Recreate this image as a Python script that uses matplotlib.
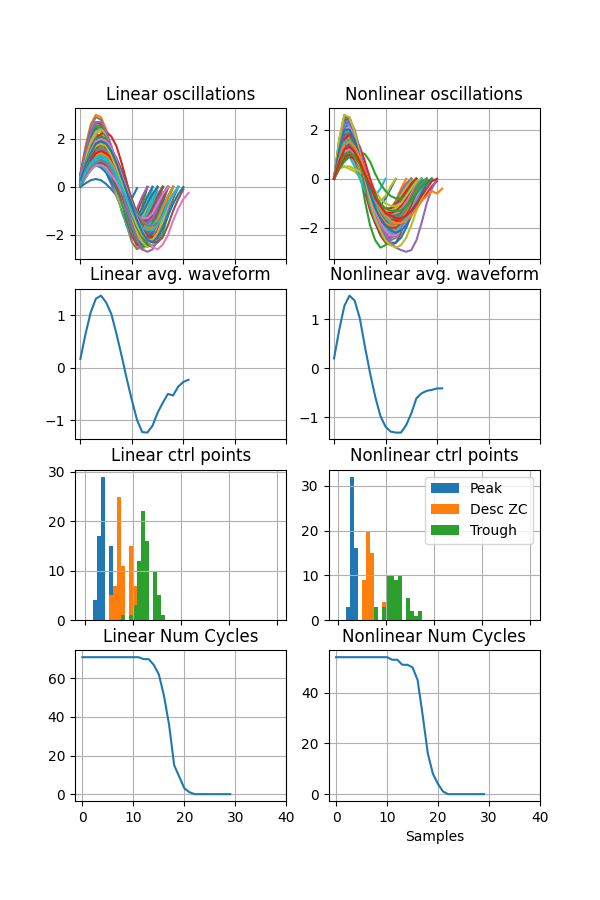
import numpy as np
import matplotlib
matplotlib.use("Agg")
import matplotlib.pyplot as plt

# ---------------- data ----------------
linear_cycles = [
    [0.0, 0.15, 0.28, 0.33, 0.28, 0.12, -0.1, -0.35, -0.58, -0.7, -0.48, -0.05],
    [0.6, 1.7, 2.6, 3.0, 2.9, 2.4, 1.6, 0.6, -0.4, -1.3, -2.0, -2.5, -2.6, -2.4, -1.9, -1.2, -0.5, 0.0],
    [0.3, 1.0, 1.6, 1.9, 1.8, 1.3, 0.6, -0.2, -1.0, -1.6, -1.9, -1.6, -0.8, 0.0],
    [0.2, 0.7, 1.1, 1.3, 1.2, 0.8, 0.3, -0.3, -0.9, -1.3, -1.4, -1.1, -0.5, 0.0],
    [0.1, 0.5, 0.9, 1.0, 0.9, 0.6, 0.1, -0.4, -0.9, -1.2, -1.2, -0.9, -0.4, 0.0],
    [0.4, 1.3, 2.0, 2.4, 2.3, 1.8, 1.0, 0.1, -0.8, -1.6, -2.1, -2.2, -1.8, -0.9, 0.0],
    [0.2, 0.8, 1.3, 1.6, 1.5, 1.1, 0.5, -0.2, -0.9, -1.5, -1.8, -1.7, -1.2, -0.5, 0.0],
    [0.5, 1.6, 2.5, 2.9, 2.8, 2.2, 1.3, 0.3, -0.7, -1.6, -2.3, -2.6, -2.4, -1.7, -0.8, 0.0],
    [0.1, 0.6, 1.0, 1.2, 1.1, 0.8, 0.3, -0.3, -0.9, -1.4, -1.6, -1.5, -1.0, -0.4, 0.0],
    [0.3, 1.1, 1.7, 2.0, 1.9, 1.4, 0.7, -0.1, -0.9, -1.6, -2.0, -2.0, -1.5, -0.7, 0.0],
    [0.0, 0.4, 0.7, 0.9, 0.8, 0.6, 0.2, -0.2, -0.7, -1.1, -1.3, -1.2, -0.9, -0.4, 0.0],
    [0.3, 1.0, 1.6, 1.9, 1.9, 1.5, 0.9, 0.2, -0.6, -1.3, -1.8, -2.0, -1.8, -1.2, -0.5, 0.0],
    [0.2, 0.7, 1.2, 1.4, 1.4, 1.1, 0.6, 0.0, -0.6, -1.1, -1.5, -1.6, -1.4, -1.0, -0.4, 0.0],
    [0.4, 1.2, 1.9, 2.2, 2.1, 1.6, 0.9, 0.1, -0.7, -1.4, -1.9, -2.1, -1.9, -1.3, -0.6, 0.0],
    [0.1, 0.5, 0.9, 1.1, 1.1, 0.9, 0.5, 0.0, -0.5, -1.0, -1.3, -1.4, -1.2, -0.8, -0.3, 0.0],
    [0.3, 0.9, 1.4, 1.7, 1.6, 1.2, 0.6, -0.1, -0.8, -1.4, -1.8, -1.9, -1.6, -1.0, -0.4, 0.0],
    [0.2, 0.8, 1.3, 1.5, 1.5, 1.2, 0.7, 0.1, -0.5, -1.1, -1.6, -1.8, -1.6, -1.1, -0.5, 0.0],
    [0.4, 1.4, 2.2, 2.6, 2.5, 2.0, 1.2, 0.3, -0.6, -1.4, -2.0, -2.3, -2.1, -1.5, -0.7, 0.0],
    [0.1, 0.6, 1.0, 1.3, 1.2, 0.9, 0.4, -0.2, -0.8, -1.3, -1.6, -1.6, -1.3, -0.8, -0.3, 0.0],
    [0.3, 1.0, 1.5, 1.8, 1.7, 1.3, 0.7, 0.0, -0.7, -1.3, -1.7, -1.8, -1.6, -1.1, -0.5, 0.0],
    [0.2, 0.6, 0.9, 1.0, 0.9, 0.7, 0.3, -0.1, -0.6, -1.0, -1.3, -1.3, -1.1, -0.7, -0.3, 0.0],
    [0.3, 1.1, 1.8, 2.3, 2.4, 2.1, 1.5, 0.7, -0.2, -1.0, -1.7, -2.2, -2.4, -2.1, -1.4, -0.6, 0.0],
    [0.2, 0.8, 1.3, 1.6, 1.6, 1.3, 0.8, 0.2, -0.5, -1.1, -1.6, -1.9, -1.9, -1.6, -1.0, -0.4, 0.0],
    [0.5, 1.5, 2.3, 2.7, 2.6, 2.1, 1.3, 0.4, -0.5, -1.4, -2.0, -2.4, -2.5, -2.1, -1.4, -0.6, 0.0],
    [0.1, 0.5, 0.9, 1.2, 1.2, 1.0, 0.6, 0.1, -0.4, -0.9, -1.3, -1.5, -1.5, -1.2, -0.8, -0.3, 0.0],
    [0.3, 0.9, 1.4, 1.7, 1.7, 1.4, 0.9, 0.2, -0.5, -1.2, -1.7, -2.0, -2.0, -1.7, -1.1, -0.5, 0.0],
    [0.2, 0.7, 1.1, 1.3, 1.3, 1.0, 0.6, 0.1, -0.5, -1.0, -1.4, -1.7, -1.7, -1.4, -0.9, -0.4, 0.0],
    [0.4, 1.3, 2.0, 2.4, 2.3, 1.9, 1.2, 0.4, -0.5, -1.3, -1.9, -2.3, -2.3, -1.9, -1.3, -0.5, 0.0],
    [0.2, 0.7, 1.2, 1.5, 1.5, 1.2, 0.8, 0.2, -0.4, -1.0, -1.5, -1.8, -1.8, -1.5, -1.0, -0.4, 0.0],
    [0.1, 0.4, 0.7, 0.9, 0.9, 0.7, 0.4, 0.0, -0.4, -0.8, -1.1, -1.3, -1.3, -1.1, -0.7, -0.3, 0.0],
    [0.3, 1.0, 1.6, 2.0, 2.0, 1.7, 1.1, 0.3, -0.5, -1.2, -1.8, -2.1, -2.1, -1.8, -1.2, -0.5, 0.0],
    [0.2, 0.9, 1.4, 1.7, 1.6, 1.3, 0.7, 0.1, -0.6, -1.2, -1.6, -1.9, -1.9, -1.6, -1.1, -0.5, 0.0],
    [0.4, 1.2, 1.8, 2.1, 2.0, 1.6, 1.0, 0.2, -0.6, -1.3, -1.8, -2.1, -2.2, -1.9, -1.3, -0.6, 0.0],
    [0.1, 0.6, 1.0, 1.3, 1.3, 1.1, 0.7, 0.2, -0.3, -0.8, -1.2, -1.5, -1.6, -1.4, -0.9, -0.4, 0.0],
    [0.3, 0.8, 1.2, 1.4, 1.4, 1.1, 0.7, 0.1, -0.5, -1.1, -1.5, -1.8, -1.8, -1.5, -1.0, -0.5, 0.0],
    [0.2, 0.6, 1.0, 1.1, 1.1, 0.9, 0.5, 0.0, -0.5, -0.9, -1.3, -1.5, -1.5, -1.3, -0.9, -0.4, 0.0],
    [0.3, 1.0, 1.7, 2.2, 2.4, 2.2, 1.7, 1.0, 0.2, -0.6, -1.4, -2.0, -2.4, -2.5, -2.2, -1.5, -0.7, 0.0],
    [0.2, 0.8, 1.3, 1.7, 1.8, 1.6, 1.2, 0.6, -0.1, -0.8, -1.4, -1.8, -2.0, -2.0, -1.6, -1.0, -0.4, 0.0],
    [0.4, 1.2, 1.9, 2.3, 2.3, 2.0, 1.4, 0.6, -0.3, -1.1, -1.8, -2.2, -2.4, -2.3, -1.9, -1.2, -0.5, 0.0],
    [0.1, 0.5, 0.9, 1.2, 1.3, 1.2, 0.9, 0.4, -0.1, -0.6, -1.1, -1.5, -1.7, -1.7, -1.4, -0.9, -0.4, 0.0],
    [0.3, 0.9, 1.5, 1.8, 1.9, 1.7, 1.2, 0.6, -0.1, -0.8, -1.4, -1.9, -2.1, -2.1, -1.8, -1.2, -0.5, 0.0],
    [0.2, 0.7, 1.1, 1.4, 1.5, 1.3, 1.0, 0.5, -0.1, -0.7, -1.2, -1.6, -1.8, -1.8, -1.5, -1.0, -0.4, 0.0],
    [0.5, 1.4, 2.1, 2.5, 2.5, 2.1, 1.5, 0.7, -0.2, -1.1, -1.8, -2.3, -2.5, -2.4, -2.0, -1.3, -0.6, 0.0],
    [0.2, 0.6, 1.0, 1.2, 1.2, 1.0, 0.7, 0.3, -0.2, -0.7, -1.1, -1.4, -1.5, -1.5, -1.2, -0.8, -0.3, 0.0],
    [0.3, 1.1, 1.7, 2.0, 2.0, 1.7, 1.2, 0.5, -0.3, -1.0, -1.6, -2.0, -2.2, -2.1, -1.7, -1.1, -0.5, 0.0],
    [0.1, 0.4, 0.8, 1.0, 1.0, 0.9, 0.6, 0.2, -0.2, -0.6, -1.0, -1.3, -1.4, -1.4, -1.1, -0.7, -0.3, 0.0],
    [0.4, 1.1, 1.6, 1.9, 1.9, 1.6, 1.1, 0.4, -0.3, -1.0, -1.6, -1.9, -2.1, -2.0, -1.6, -1.0, -0.4, 0.0],
    [0.2, 0.9, 1.4, 1.7, 1.7, 1.5, 1.0, 0.4, -0.3, -0.9, -1.5, -1.9, -2.0, -1.9, -1.5, -1.0, -0.4, 0.0],
    [0.3, 0.8, 1.3, 1.6, 1.6, 1.4, 1.0, 0.4, -0.2, -0.8, -1.3, -1.7, -1.9, -1.8, -1.5, -1.0, -0.4, 0.0],
    [0.1, 0.6, 1.0, 1.3, 1.4, 1.3, 1.0, 0.5, 0.0, -0.6, -1.1, -1.5, -1.7, -1.7, -1.4, -0.9, -0.4, 0.0],
    [0.4, 1.3, 2.0, 2.4, 2.4, 2.1, 1.5, 0.7, -0.2, -1.0, -1.7, -2.2, -2.4, -2.3, -1.9, -1.3, -0.6, 0.0],
    [0.2, 0.7, 1.2, 1.5, 1.6, 1.4, 1.0, 0.4, -0.2, -0.8, -1.3, -1.7, -1.9, -1.9, -1.6, -1.0, -0.4, 0.0],
    [0.3, 0.9, 1.4, 1.6, 1.6, 1.3, 0.9, 0.3, -0.3, -0.9, -1.4, -1.8, -2.0, -1.9, -1.5, -0.9, -0.4, 0.0],
    [0.3, 1.0, 1.6, 2.0, 2.2, 2.3, 2.1, 1.7, 1.0, 0.2, -0.6, -1.3, -1.9, -2.2, -2.2, -1.8, -1.2, -0.5, 0.0],
    [0.2, 0.5, 0.9, 1.1, 1.1, 1.0, 0.7, 0.3, -0.2, -0.6, -1.0, -1.3, -1.5, -1.5, -1.3, -0.9, -0.4, 0.0],
    [0.3, 1.0, 1.6, 1.9, 1.9, 1.6, 1.1, 0.5, -0.2, -0.9, -1.5, -1.9, -2.1, -2.0, -1.6, -1.1, -0.5, 0.0],
    [0.1, 0.4, 0.7, 0.9, 0.9, 0.8, 0.5, 0.2, -0.2, -0.6, -0.9, -1.2, -1.3, -1.3, -1.1, -0.7, -0.3, 0.0],
    [0.2, 0.7, 1.2, 1.5, 1.6, 1.5, 1.2, 0.7, 0.1, -0.5, -1.1, -1.6, -1.9, -2.0, -1.9, -1.5, -1.0, -0.4, 0.0],
    [0.4, 1.2, 1.9, 2.3, 2.4, 2.2, 1.7, 1.0, 0.2, -0.6, -1.3, -1.9, -2.3, -2.5, -2.4, -2.0, -1.3, -0.6, 0.0],
    [0.1, 0.5, 0.9, 1.1, 1.2, 1.1, 0.8, 0.4, -0.1, -0.6, -1.0, -1.4, -1.6, -1.7, -1.6, -1.3, -0.8, -0.4, 0.0],
    [0.3, 0.9, 1.4, 1.8, 1.9, 1.8, 1.4, 0.8, 0.1, -0.6, -1.2, -1.7, -2.0, -2.1, -1.9, -1.5, -1.0, -0.4, 0.0],
    [0.2, 0.6, 1.0, 1.3, 1.4, 1.3, 1.0, 0.6, 0.1, -0.4, -0.9, -1.3, -1.6, -1.8, -1.7, -1.4, -0.9, -0.4, 0.0],
    [0.3, 1.0, 1.6, 2.0, 2.1, 2.0, 1.6, 1.1, 0.4, -0.3, -1.0, -1.6, -2.1, -2.4, -2.5, -2.3, -1.9, -1.2, -0.5, 0.0],
    [0.2, 0.7, 1.1, 1.4, 1.5, 1.4, 1.2, 0.8, 0.3, -0.2, -0.8, -1.3, -1.7, -2.0, -2.1, -2.0, -1.6, -1.0, -0.4, 0.0],
    [0.5, 1.5, 2.3, 2.7, 2.7, 2.3, 1.7, 0.9, 0.0, -0.9, -1.6, -2.2, -2.6, -2.7, -2.6, -2.2, -1.6, -1.0, -0.4, 0.0],
    [0.2, 0.7, 1.2, 1.6, 1.8, 1.8, 1.6, 1.2, 0.7, 0.1, -0.5, -1.1, -1.6, -2.0, -2.3, -2.3, -2.1, -1.6, -1.0, -0.5, -0.1],
    [0.3, 0.9, 1.5, 1.9, 2.0, 1.9, 1.6, 1.1, 0.5, -0.1, -0.7, -1.3, -1.8, -2.2, -2.5, -2.6, -2.4, -2.0, -1.4, -0.9, -0.5, -0.25],
    [0.1, 0.5, 0.8, 1.0, 1.1, 1.0, 0.8, 0.5, 0.1, -0.3, -0.7, -1.1, -1.4, -1.6, -1.6, -1.5, -1.2, -0.7, -0.3, 0.0],
    [0.3, 0.9, 1.4, 1.7, 1.8, 1.7, 1.3, 0.8, 0.2, -0.5, -1.1, -1.6, -2.0, -2.2, -2.2, -1.9, -1.4, -0.8, -0.3, 0.0],
    [0.2, 0.6, 1.0, 1.2, 1.3, 1.2, 0.9, 0.5, 0.0, -0.5, -1.0, -1.4, -1.7, -1.8, -1.8, -1.6, -1.2, -0.7, -0.3, 0.0],
    [0.3, 0.9, 1.4, 1.8, 1.9, 1.8, 1.5, 1.0, 0.4, -0.2, -0.8, -1.4, -1.9, -2.2, -2.3, -2.1, -1.7, -1.2, -0.7, -0.3, 0.0],
]

nonlinear_cycles = [
    [0.0, 0.9, 1.5, 1.4, 0.9, 0.2, -0.5, -1.0, -1.2, -1.1, -0.8, -0.4, 0.0],
    [0.0, 1.1, 1.9, 1.8, 1.2, 0.4, -0.5, -1.2, -1.6, -1.8, -1.7, -1.4, -0.9, -0.4, 0.0],
    [0.0, 1.6, 2.6, 2.4, 1.5, 0.3, -0.9, -1.9, -2.5, -2.8, -2.7, -2.3, -1.6, -0.9, -0.4, 0.0],
    [0.0, 1.3, 2.3, 2.2, 1.5, 0.5, -0.5, -1.3, -1.8, -2.1, -2.2, -2.0, -1.5, -0.9, -0.3, 0.0],
    [0.0, 0.8, 1.4, 1.4, 1.0, 0.4, -0.3, -0.9, -1.3, -1.5, -1.6, -1.5, -1.1, -0.6, -0.2, 0.0],
    [0.0, 1.5, 2.5, 2.5, 1.9, 0.9, -0.2, -1.1, -1.8, -2.3, -2.6, -2.7, -2.6, -2.2, -1.6, -1.0, -0.4, 0.0],
    [0.0, 1.0, 1.7, 1.6, 1.1, 0.4, -0.4, -1.0, -1.4, -1.7, -1.8, -1.6, -1.2, -0.7, -0.3, 0.0],
    [0.0, 0.7, 1.2, 1.1, 0.7, 0.2, -0.4, -0.9, -1.2, -1.4, -1.4, -1.2, -0.9, -0.5, -0.2, 0.0],
    [0.1, 0.5, 0.5, 0.4, 0.3, 0.1, -0.2, -0.5, -0.8, -0.9, -0.7, -0.3, 0.0],
    [0.0, 0.6, 1.0, 0.9, 0.5, 0.0, -0.5, -0.8, -0.7, -0.4, 0.0],
    [0.0, 1.2, 2.1, 2.2, 1.7, 0.9, 0.0, -0.8, -1.4, -1.8, -2.0, -2.0, -1.8, -1.4, -0.9, -0.4, 0.0],
    [0.0, 0.9, 1.6, 1.7, 1.3, 0.6, -0.2, -0.8, -1.3, -1.6, -1.8, -1.8, -1.6, -1.2, -0.8, -0.3, 0.0],
    [0.0, 0.7, 1.2, 1.3, 1.0, 0.5, -0.1, -0.7, -1.1, -1.4, -1.5, -1.5, -1.3, -1.0, -0.6, -0.2, 0.0],
    [0.0, 1.4, 2.4, 2.4, 1.8, 0.8, -0.3, -1.2, -1.8, -2.2, -2.4, -2.4, -2.1, -1.6, -1.0, -0.4, 0.0],
    [0.0, 0.5, 0.9, 1.0, 0.8, 0.4, -0.1, -0.6, -1.0, -1.2, -1.3, -1.3, -1.1, -0.8, -0.5, -0.2, 0.0],
    [0.0, 1.0, 1.8, 1.9, 1.5, 0.8, 0.0, -0.7, -1.2, -1.6, -1.8, -1.9, -1.7, -1.3, -0.8, -0.3, 0.0],
    [0.0, 0.8, 1.3, 1.4, 1.1, 0.5, -0.2, -0.8, -1.2, -1.5, -1.7, -1.7, -1.5, -1.1, -0.7, -0.3, 0.0],
    [0.0, 1.1, 1.9, 2.0, 1.5, 0.7, -0.2, -1.0, -1.6, -2.0, -2.2, -2.2, -1.9, -1.4, -0.9, -0.4, 0.0],
    [0.0, 0.6, 1.0, 1.1, 0.9, 0.4, -0.2, -0.7, -1.0, -1.2, -1.3, -1.2, -1.0, -0.7, -0.4, -0.1, 0.0],
    [0.0, 1.3, 2.2, 2.2, 1.6, 0.7, -0.3, -1.1, -1.7, -2.1, -2.3, -2.2, -1.9, -1.4, -0.9, -0.4, 0.0],
    [0.0, 0.9, 1.5, 1.5, 1.1, 0.5, -0.2, -0.9, -1.4, -1.7, -1.8, -1.7, -1.4, -1.0, -0.6, -0.2, 0.0],
    [0.0, 0.7, 1.3, 1.5, 1.3, 0.8, 0.2, -0.4, -0.9, -1.3, -1.5, -1.6, -1.5, -1.2, -0.8, -0.3, 0.0],
    [0.0, 1.0, 1.6, 1.6, 1.2, 0.5, -0.3, -1.0, -1.5, -1.8, -1.9, -1.8, -1.5, -1.1, -0.7, -0.3, 0.0],
    [0.0, 0.4, 0.8, 0.9, 0.8, 0.5, 0.1, -0.4, -0.8, -1.1, -1.2, -1.2, -1.0, -0.8, -0.5, -0.2, 0.0],
    [0.0, 1.2, 2.0, 2.1, 1.6, 0.8, -0.1, -0.9, -1.5, -1.9, -2.2, -2.3, -2.2, -1.9, -1.4, -0.9, -0.4, 0.0],
    [0.0, 0.9, 1.5, 1.6, 1.3, 0.7, 0.0, -0.7, -1.2, -1.6, -1.8, -1.9, -1.8, -1.5, -1.1, -0.7, -0.3, 0.0],
    [0.0, 0.6, 1.1, 1.2, 1.0, 0.6, 0.0, -0.5, -0.9, -1.2, -1.4, -1.5, -1.4, -1.2, -0.9, -0.5, -0.2, 0.0],
    [0.0, 1.3, 2.3, 2.4, 1.9, 1.0, 0.0, -0.9, -1.6, -2.1, -2.4, -2.5, -2.4, -2.0, -1.5, -0.9, -0.4, 0.0],
    [0.1, 0.4, 0.5, 0.5, 0.4, 0.3, 0.1, -0.2, -0.5, -0.8, -1.0, -1.1, -1.1, -1.0, -0.8, -0.6, -0.3, -0.1, 0.0],
    [0.0, 1.0, 1.7, 1.8, 1.4, 0.8, 0.0, -0.7, -1.3, -1.7, -2.0, -2.1, -2.0, -1.7, -1.3, -0.8, -0.3, 0.0],
    [0.0, 0.8, 1.3, 1.4, 1.1, 0.6, -0.1, -0.7, -1.1, -1.4, -1.6, -1.7, -1.6, -1.3, -1.0, -0.6, -0.2, 0.0],
    [0.0, 1.1, 1.8, 1.9, 1.5, 0.8, 0.0, -0.8, -1.4, -1.8, -2.1, -2.2, -2.1, -1.8, -1.3, -0.8, -0.3, 0.0],
    [0.0, 0.4, 0.7, 0.9, 1.0, 1.1, 1.0, 0.7, 0.2, -0.2, -0.5, -0.7, -0.8, -0.8, -0.8, -0.6, -0.4, -0.2, 0.0],
    [0.0, 0.5, 0.9, 1.0, 0.8, 0.5, 0.0, -0.4, -0.8, -1.1, -1.3, -1.4, -1.3, -1.1, -0.8, -0.5, -0.2, 0.0],
    [0.0, 1.4, 2.3, 2.3, 1.7, 0.8, -0.2, -1.0, -1.6, -2.0, -2.3, -2.4, -2.3, -2.0, -1.5, -1.0, -0.4, 0.0],
    [0.0, 0.9, 1.6, 1.8, 1.6, 1.1, 0.4, -0.3, -0.9, -1.4, -1.7, -1.9, -1.9, -1.7, -1.3, -0.8, -0.3, 0.0],
    [0.0, 0.7, 1.2, 1.3, 1.1, 0.7, 0.1, -0.5, -1.0, -1.3, -1.5, -1.6, -1.5, -1.3, -1.0, -0.6, -0.2, 0.0],
    [0.0, 1.2, 1.9, 1.9, 1.4, 0.6, -0.2, -0.9, -1.4, -1.8, -2.0, -2.0, -1.9, -1.6, -1.2, -0.7, -0.3, 0.0],
    [0.0, 0.6, 1.0, 1.1, 0.9, 0.5, 0.0, -0.5, -0.9, -1.1, -1.3, -1.3, -1.2, -1.0, -0.7, -0.4, -0.1, 0.0],
    [0.0, 1.0, 1.8, 2.0, 1.7, 1.0, 0.2, -0.6, -1.2, -1.7, -2.0, -2.2, -2.2, -1.9, -1.5, -1.0, -0.4, 0.0],
    [0.0, 1.4, 2.4, 2.4, 1.9, 1.0, 0.0, -0.9, -1.6, -2.1, -2.4, -2.6, -2.6, -2.4, -2.0, -1.5, -0.9, -0.4, 0.0],
    [0.0, 0.9, 1.6, 1.7, 1.4, 0.8, 0.1, -0.6, -1.1, -1.5, -1.8, -1.9, -1.9, -1.7, -1.4, -1.0, -0.6, -0.2, 0.0],
    [0.0, 0.7, 1.2, 1.3, 1.1, 0.7, 0.1, -0.4, -0.9, -1.2, -1.4, -1.5, -1.5, -1.4, -1.1, -0.8, -0.4, -0.1, 0.0],
    [0.0, 0.9, 1.6, 1.8, 1.7, 1.3, 0.7, 0.0, -0.6, -1.1, -1.4, -1.6, -1.7, -1.7, -1.6, -1.4, -1.2, -0.9, -0.6, -0.3, -0.1],
    [0.0, 1.3, 2.3, 2.4, 2.0, 1.2, 0.3, -0.5, -1.2, -1.8, -2.3, -2.6, -2.8, -2.9, -2.97, -2.9, -2.5, -1.8, -1.0, -0.4, 0.0],
    [0.0, 1.1, 1.8, 1.8, 1.4, 0.7, -0.1, -0.8, -1.3, -1.7, -1.9, -2.0, -2.0, -1.8, -1.5, -1.1, -0.6, -0.2, 0.0],
    [0.0, 1.2, 2.0, 2.1, 1.7, 1.0, 0.1, -0.7, -1.3, -1.8, -2.1, -2.3, -2.3, -2.1, -1.8, -1.3, -0.8, -0.3, 0.0],
    [0.0, 0.8, 1.4, 1.5, 1.2, 0.7, 0.0, -0.6, -1.0, -1.3, -1.5, -1.6, -1.6, -1.5, -1.2, -0.9, -0.5, -0.2, 0.0],
    [0.0, 1.6, 2.6, 2.5, 1.9, 1.0, 0.0, -0.9, -1.6, -2.1, -2.5, -2.7, -2.8, -2.7, -2.4, -1.9, -1.3, -0.8, -0.3, 0.0],
    [0.0, 0.9, 1.5, 1.6, 1.3, 0.8, 0.2, -0.4, -0.9, -1.3, -1.6, -1.8, -1.8, -1.8, -1.6, -1.3, -0.9, -0.5, -0.2, 0.0],
    [0.0, 1.2, 2.0, 2.0, 1.6, 0.9, 0.1, -0.6, -1.2, -1.6, -1.9, -2.1, -2.2, -2.1, -1.9, -1.5, -1.1, -0.6, -0.2, 0.0],
    [0.0, 0.8, 1.4, 1.5, 1.3, 0.9, 0.3, -0.3, -0.8, -1.2, -1.5, -1.7, -1.8, -1.8, -1.7, -1.5, -1.2, -0.9, -0.7, -0.5, -0.6, -0.4],
    [0.0, 0.6, 1.0, 1.1, 0.9, 0.6, 0.1, -0.3, -0.7, -1.0, -1.2, -1.3, -1.3, -1.3, -1.1, -0.9, -0.6, -0.3, -0.1, 0.0],
    [0.0, 0.7, 1.2, 1.3, 1.1, 0.7, 0.2, -0.3, -0.8, -1.1, -1.4, -1.5, -1.6, -1.6, -1.5, -1.3, -1.0, -0.7, -0.4, -0.1, 0.0],
]

linear_avg = [0.17, 0.65, 1.06, 1.32, 1.38, 1.25, 1.03, 0.65, 0.23, -0.21, -0.62, -1.0,
              -1.23, -1.24, -1.11, -0.86, -0.67, -0.50, -0.53, -0.36, -0.27, -0.23]
nonlinear_avg = [0.20, 0.78, 1.27, 1.48, 1.38, 1.02, 0.44, -0.10, -0.58, -0.97, -1.19, -1.29,
                 -1.31, -1.31, -1.16, -0.92, -0.61, -0.51, -0.46, -0.44, -0.41, -0.41]

# control point histograms: position (samples) -> number of cycles
ctrl_labels = ["Peak", "Desc ZC", "Trough"]
linear_peak_pos = [2.08, 2.92, 3.75, 5.42, 6.25]
linear_peak_counts = [4, 17, 29, 15, 6]
linear_zc_pos = [5.42, 6.25, 7.08, 7.92, 9.58, 10.42]
linear_zc_counts = [5, 7, 25, 11, 15, 7]
linear_trough_pos = [7.92, 9.58, 10.42, 11.25, 12.08, 12.92, 14.58, 15.42, 16.25]
linear_trough_counts = [1, 1, 3, 12, 22, 16, 10, 5, 1]
nonlinear_peak_pos = [2.08, 2.92, 3.75]
nonlinear_peak_counts = [3, 32, 16]
nonlinear_zc_pos = [5.42, 6.25, 7.08, 7.92, 9.58]
nonlinear_zc_counts = [9, 20, 15, 3, 4]
nonlinear_trough_pos = [7.92, 9.58, 10.42, 11.25, 12.08, 12.92, 14.58, 15.42, 16.25, 17.08]
nonlinear_trough_counts = [3, 3, 10, 10, 9, 10, 5, 2, 1, 2]

linear_ncycles = [71, 71, 71, 71, 71, 71, 71, 71, 71, 71, 71, 71, 70, 70, 67, 62, 51, 36,
                  15, 9, 3, 1, 0, 0, 0, 0, 0, 0, 0, 0]
nonlinear_ncycles = [54, 54, 54, 54, 54, 54, 54, 54, 54, 54, 54, 53, 53, 51, 51, 50, 45, 31,
                     16, 8, 4, 1, 0, 0, 0, 0, 0, 0, 0, 0]

# ---------------- plot ----------------
fig, axes = plt.subplots(4, 2, figsize=(6, 9), dpi=100)

for ax, cycles, title in [(axes[0, 0], linear_cycles, "Linear oscillations"),
                          (axes[0, 1], nonlinear_cycles, "Nonlinear oscillations")]:
    for c in cycles:
        ax.plot(np.arange(len(c)), c)
    ax.set_title(title)
    ax.set_xlim(right=40)

for ax, avg, title in [(axes[1, 0], linear_avg, "Linear avg. waveform"),
                       (axes[1, 1], nonlinear_avg, "Nonlinear avg. waveform")]:
    ax.plot(np.arange(len(avg)), avg)
    ax.set_title(title)
    ax.set_xlim(right=40)

bin_edges = np.linspace(0, 40, 49)
for ax, sets, title in [
    (axes[2, 0], [(linear_peak_pos, linear_peak_counts),
                  (linear_zc_pos, linear_zc_counts),
                  (linear_trough_pos, linear_trough_counts)], "Linear ctrl points"),
    (axes[2, 1], [(nonlinear_peak_pos, nonlinear_peak_counts),
                  (nonlinear_zc_pos, nonlinear_zc_counts),
                  (nonlinear_trough_pos, nonlinear_trough_counts)], "Nonlinear ctrl points"),
]:
    for (s, c), lab in zip(sets, ctrl_labels):
        ax.hist(s, bins=bin_edges, weights=c, label=lab)
    ax.set_title(title)
axes[2, 1].legend(loc="upper right")

for ax, n, title in [(axes[3, 0], linear_ncycles, "Linear Num Cycles"),
                     (axes[3, 1], nonlinear_ncycles, "Nonlinear Num Cycles")]:
    ax.plot(np.arange(len(n)), n)
    ax.set_title(title)
    ax.set_xlim(right=40)
axes[3, 1].set_xlabel("Samples")

for ax in axes.flat:
    ax.grid(True)
    ax.set_xticks([0, 10, 20, 30, 40])
for ax in axes[:3].flat:
    ax.tick_params(labelbottom=False)

fig.savefig("out.png")
